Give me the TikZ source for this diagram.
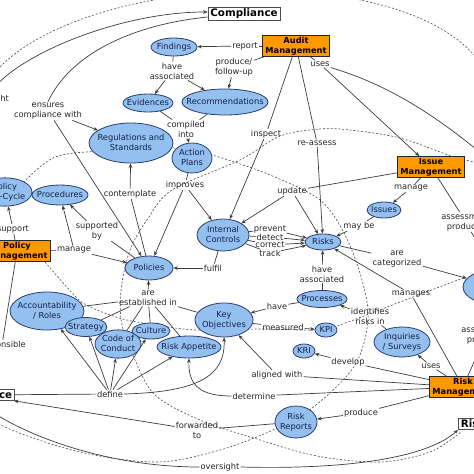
\documentclass[tikz,border=0pt]{standalone}
\usepackage{fontspec}
\setmainfont{DejaVu Sans}
\usetikzlibrary{shapes.geometric,arrows.meta,backgrounds}
\definecolor{cfill}{RGB}{148,192,240}
\definecolor{cbord}{RGB}{40,62,110}
\definecolor{ctext}{RGB}{20,32,75}
\definecolor{ofill}{RGB}{255,153,0}
\definecolor{lcol}{RGB}{60,60,60}
\newcommand{\lfont}{\fontsize{8.3}{10}\selectfont}
\newcommand{\bfnt}{\fontsize{8.3}{10}\selectfont\bfseries}
\newcommand{\gfnt}{\fontsize{10.3}{12}\selectfont\bfseries}
\newcommand{\cmtxt}[1]{\makebox[0pt]{\begin{tabular}{@{}c@{}}#1\end{tabular}}}
\tikzset{
  conc/.style={ellipse, draw=cbord, fill=cfill, line width=0.8pt, inner sep=0pt, text=ctext, font=\lfont},
  obox/.style={rectangle, draw=black!85, fill=ofill, line width=0.8pt, font=\bfnt, align=center, inner xsep=3pt, inner ysep=1.5pt, text=black},
  wbox/.style={rectangle, draw=black!70, fill=white, line width=0.8pt, font=\gfnt, inner xsep=2.5pt, inner ysep=1.5pt},
  lbl/.style={inner sep=1pt, align=center, font=\lfont, text=black!85},
  lnk/.style={draw=lcol, line width=0.7pt},
  arr/.style={lnk, -{Stealth[length=4.5pt,width=3.6pt]}},
  dsh/.style={draw=black!70, line width=0.6pt, dash pattern=on 2pt off 1.8pt},
}
\begin{document}
\begin{tikzpicture}[x=1pt,y=-1pt]
\path[use as bounding box] (0,0) rectangle (474,474);
% ---------- boxes
\node[wbox] (comp) at (244,14) {Compliance};
\node[obox] (am) at (296,46) {Audit\\Management};
\node[obox] (im) at (431,167) {Issue\\Management};
\node[obox] (pm) at (17,251) {Policy\\Management};
\node[obox] (rm) at (463,387) {Risk\\Management};
\node[wbox, anchor=east] (gov) at (15,395) {Governance};
\node[wbox, anchor=west] (riskb) at (458,424) {Risk};
% ---------- concepts
\node[conc, minimum width=46pt, minimum height=18pt] (find) at (174,47) {\cmtxt{Findings}};
\node[conc, minimum width=50pt, minimum height=18pt] (evid) at (148,103) {\cmtxt{Evidences}};
\node[conc, minimum width=86pt, minimum height=26pt] (rec) at (225,102) {\cmtxt{Recommendations}};
\node[conc, minimum width=84pt, minimum height=40pt] (reg) at (131,143) {\cmtxt{Regulations and\\Standards}};
\node[conc, minimum width=40pt, minimum height=30pt] (ap) at (192,158) {\cmtxt{Action\\Plans}};
\node[conc, minimum width=54pt, minimum height=26pt] (plc) at (5,192) {\cmtxt{Policy\\Life-Cycle}};
\node[conc, minimum width=56pt, minimum height=20pt] (proc) at (60,195) {\cmtxt{Procedures}};
\node[conc, minimum width=48pt, minimum height=24pt] (pol) at (149,268) {\cmtxt{Policies}};
\node[conc, minimum width=52pt, minimum height=32pt] (ic) at (223,235) {\cmtxt{Internal\\Controls}};
\node[conc, minimum width=36pt, minimum height=16pt] (risks) at (323,242) {\cmtxt{Risks}};
\node[conc, minimum width=34pt, minimum height=16pt] (issues) at (384,210) {\cmtxt{Issues}};
\node[conc, minimum width=70pt, minimum height=36pt] (catR) at (498,287) {};
\node[conc, minimum width=50pt, minimum height=17pt] (procs) at (322,299) {\cmtxt{Processes}};
\node[conc, minimum width=22pt, minimum height=13pt] (kpi) at (326,330) {\cmtxt{KPI}};
\node[conc, minimum width=22pt, minimum height=13pt] (kri) at (304,351) {\cmtxt{KRI}};
\node[conc, minimum width=56pt, minimum height=30pt] (inq) at (402,342) {\cmtxt{Inquiries\\/ Surveys}};
\node[conc, minimum width=58pt, minimum height=34pt] (ko) at (224,320) {\cmtxt{Key\\Objectives}};
\node[conc, minimum width=74pt, minimum height=38pt] (acc) at (47,311) {\cmtxt{Accountability\\/ Roles}};
\node[conc, minimum width=42pt, minimum height=19pt] (strat) at (86,327) {\cmtxt{Strategy}};
\node[conc, minimum width=38pt, minimum height=16pt] (cult) at (151,331) {\cmtxt{Culture}};
\node[conc, minimum width=46pt, minimum height=26pt] (coc) at (118,344) {\cmtxt{Code of\\Conduct}};
\node[conc, minimum width=64pt, minimum height=22pt] (ra) at (189,347) {\cmtxt{Risk Appetite}};
\node[conc, minimum width=42pt, minimum height=32pt] (rr) at (296,422) {\cmtxt{Risk\\Reports}};
% ---------- linking phrases
\node[lbl] (l_rep) at (245,46) {report};
\node[lbl] (l_ha1) at (172,71) {have\\associated};
\node[lbl] (l_pro) at (234,67) {produce/\\follow-up};
\node[lbl] (l_ens) at (48,111) {ensures\\compliance with};
\node[lbl, anchor=east] (l_ght) at (10,99) {oversight};
\node[lbl] (l_cmp) at (186,129) {compiled\\into};
\node[lbl] (l_insp) at (266,134) {inspect};
\node[lbl] (l_rea) at (317,143) {re-assess};
\node[lbl] (l_uses1) at (320,64) {uses};
\node[lbl] (l_imp) at (185,185) {improves};
\node[lbl] (l_cont) at (130,194) {contemplate};
\node[lbl] (l_upd) at (292,191) {update};
\node[lbl] (l_sup) at (97,231) {supported\\by};
\node[lbl] (l_man1) at (74,250) {manage};
\node[lbl] (l_spt) at (13,229) {support};
\node[lbl, inner sep=0.3pt] (l_prev) at (270,229) {prevent};
\node[lbl, inner sep=0.3pt] (l_dete) at (270,237) {detect};
\node[lbl, inner sep=0.3pt] (l_corr) at (270,245) {correct};
\node[lbl, inner sep=0.3pt] (l_trk) at (270,253) {track};
\node[lbl] (l_ful) at (213,268) {fulfil};
\node[lbl] (l_may) at (359,226) {may be};
\node[lbl] (l_man2) at (411,188) {manage};
\node[lbl] (l_as1) at (466,222) {assessment\\produces};
\node[lbl] (l_cat) at (397,259) {are\\categorized};
\node[lbl] (l_mgs) at (411,294) {manages};
\node[lbl] (l_ha2) at (322,274) {have\\associated};
\node[lbl] (l_have) at (277,306) {have};
\node[lbl] (l_idf) at (370,316) {identifies\\risks in};
\node[lbl] (l_meas) at (283,327) {measured};
\node[lbl] (l_dev) at (348,362) {develop};
\node[lbl] (l_uses2) at (431,366) {uses};
\node[lbl] (l_as2) at (486,335) {assessment\\produces};
\node[lbl] (l_ali) at (277,375) {aligned with};
\node[lbl] (l_detm) at (254,396) {determine};
\node[lbl] (l_def) at (110,394) {define};
\node[lbl] (l_fwd) at (197,430) {forwarded\\to};
\node[lbl] (l_pro2) at (361,413) {produce};
\node[lbl] (l_ovs) at (220,467) {oversight};
\node[lbl] (l_est) at (148,298) {are\\established in};
\node[lbl, anchor=east] (l_resp) at (27,345) {responsible};
\coordinate (offR1) at (495,165);
\coordinate (offR2) at (482,252);
% ---------- background: dashed regions and connectors
\begin{pgfonlayer}{background}
\fill[white] (-60,-60) rectangle (534,534);
\draw[dsh] (0,67) .. controls (90,-25) and (390,-40) .. (474,55);
\draw[dsh] plot[smooth, tension=0.55] coordinates {(18,188) (53,158) (100,151) (173,148) (212,155) (270,175) (320,200) (345,235) (362,280) (368,320) (355,365) (316,405) (275,429) (220,450) (157,462) (80,452) (5,427) (-20,405)};
\draw[dsh] plot[smooth, tension=0.55] coordinates {(480,163) (454,157) (400,138) (350,130) (320,129) (280,136) (240,160) (172,190) (147,220) (130,250) (121,290) (122,325) (135,360) (155,395) (200,420) (260,440) (317,456) (380,462) (430,452) (461,432)};
\draw[dsh] plot[smooth, tension=0.55] coordinates {(45,262) (65,285) (83,303) (110,315) (137,322) (195,330) (260,329) (315,330) (337,326) (400,302) (463,278)};
% audit
\draw[lnk] (am) -- (l_rep); \draw[arr] (l_rep) -- (find);
\draw[lnk] (am) -- (l_pro); \draw[arr] (l_pro) -- (rec);
\draw[lnk] (find) -- (l_ha1); \draw[arr] (l_ha1) -- (evid); \draw[arr] (l_ha1) -- (rec);
\draw[lnk] (evid) -- (l_cmp); \draw[lnk] (rec) -- (l_cmp); \draw[arr] (l_cmp) -- (ap);
\draw[lnk] (am) -- (l_uses1); \draw[arr] (l_uses1) -- (im);
\draw[arr] (l_uses1.south east) .. controls (390,85) and (440,118) .. (offR1);
\draw[lnk] (am) -- (l_insp); \draw[arr] (l_insp) -- (ic);
\draw[lnk] (am) -- (l_rea); \draw[arr] (l_rea) -- (risks);
% compliance
\draw[arr] (l_ght.north) .. controls (15,55) and (120,12) .. ([yshift=2pt]comp.west);
\draw[lnk] ([yshift=-3pt]comp.west) .. controls (130,25) and (70,55) .. (l_ens.north);
\draw[arr] (l_ens) -- (reg);
\draw[arr] (l_ens) -- (pol);
% policies
\draw[lnk] (ap) -- (l_imp); \draw[arr] (l_imp) -- (ic); \draw[arr] (l_imp) -- (pol);
\draw[lnk] (pol) -- (l_cont); \draw[arr] (l_cont) -- (reg);
\draw[lnk] (im) -- (l_upd); \draw[arr] (l_upd) -- (ic); \draw[arr] (l_upd) -- (risks);
\draw[lnk] (pol) -- (l_sup); \draw[arr] (l_sup) -- (proc);
\draw[lnk] (pm) -- (l_man1); \draw[arr] (l_man1) -- (pol); \draw[arr] (l_man1) -- (proc);
\draw[lnk] (pm) -- (l_spt); \draw[arr] (l_spt) -- (plc);
\draw[lnk] (pm) -- (l_resp);
\foreach \nn in {l_prev,l_dete,l_corr,l_trk} {\draw[lnk] (ic) -- (\nn); \draw[arr] (\nn) -- (risks);}
\draw[lnk] (ic) -- (l_ful); \draw[arr] (l_ful) -- (pol);
% issues / risks
\draw[lnk] (issues) -- (l_may); \draw[arr] (l_may) -- (risks);
\draw[lnk] (im) -- (l_man2); \draw[arr] (l_man2) -- (issues);
\draw[lnk] (im) -- (l_as1); \draw[arr] (l_as1) -- (offR2);
\draw[lnk] (risks) -- (l_cat); \draw[arr] (l_cat) -- (catR);
\draw[lnk] (rm) -- (l_mgs); \draw[arr] (l_mgs) -- (risks);
\draw[lnk] (procs) -- (l_ha2); \draw[arr] (l_ha2) -- (risks);
\draw[lnk] (procs) -- (l_have); \draw[arr] (l_have) -- (ko);
\draw[lnk] (inq) -- (l_idf); \draw[arr] (l_idf) -- (procs);
\draw[lnk] (ko) -- (l_meas); \draw[arr] (l_meas) -- (kpi);
\draw[lnk] (rm) -- (l_dev); \draw[arr] (l_dev) -- (kri);
\draw[lnk] (rm) -- (l_uses2); \draw[arr] (l_uses2) -- (inq);
\draw[lnk] (rm) -- (l_as2);
\draw[lnk] (rm) -- (l_ali); \draw[arr] (l_ali) -- (ko);
\draw[lnk] (rm) -- (l_detm);
\draw[arr] (l_detm.west) .. controls (200,396) and (188,385) .. (ra.south);
% governance
\draw[lnk] (gov) -- (l_def);
\foreach \nn in {acc,strat,coc,cult,ra} {\draw[arr] (l_def) -- (\nn);}
\draw[arr] (l_def.east) .. controls (190,392) and (226,380) .. (ko.south);
\draw[lnk] (rr) -- (l_fwd); \draw[arr] (l_fwd) -- (gov);
\draw[lnk] (rm) -- (l_pro2); \draw[arr] (l_pro2) -- (rr);
\draw[lnk] (gov.south) .. controls (10,430) and (100,467) .. (l_ovs.west);
\draw[arr] (l_ovs.east) .. controls (360,470) and (430,455) .. (riskb.south west);
\foreach \nn in {acc,strat,coc,cult,ra,ko} {\draw[lnk] (\nn) -- (l_est);}
\draw[arr] (l_est) -- (pol);
\end{pgfonlayer}
\end{tikzpicture}
\end{document}
